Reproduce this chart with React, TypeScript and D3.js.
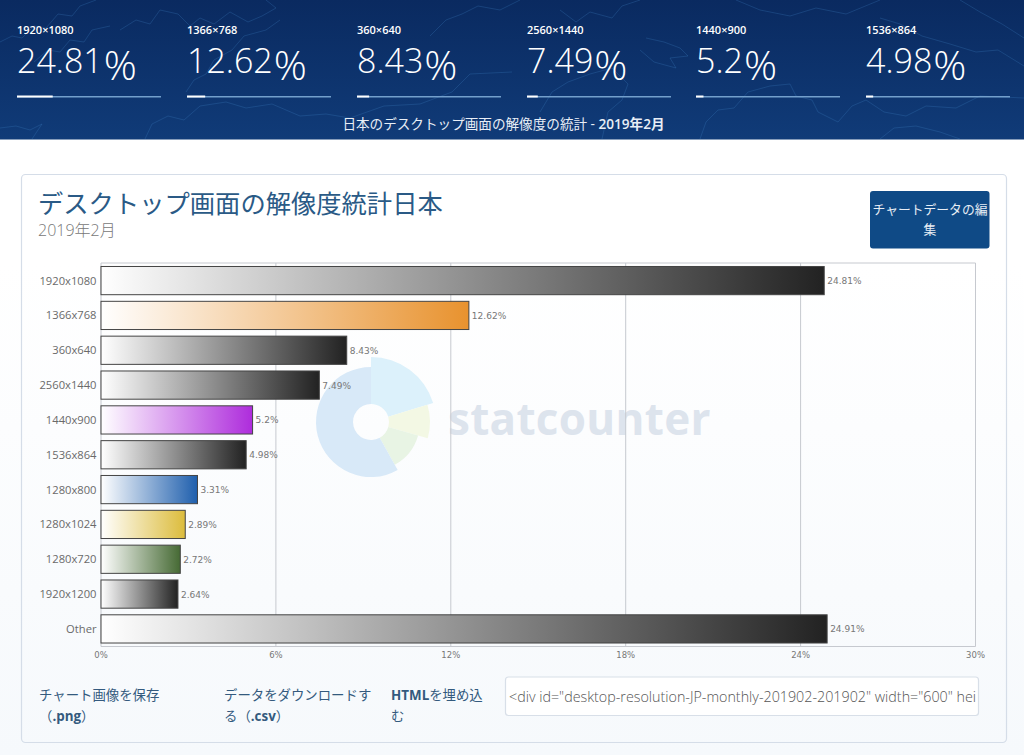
import React from "react";
import * as d3 from "d3";

const categories = ["1920x1080","1366x768","360x640","2560x1440","1440x900","1536x864","1280x800","1280x1024","1280x720","1920x1200","Other"];
const shares = [24.81,12.62,8.43,7.49,5.2,4.98,3.31,2.89,2.72,2.64,24.91];
const barColors = ["#222222","#e8922e","#222222","#222222","#ae2cdc","#222222","#1f5fad","#dcbc3c","#466a34","#222222","#222222"];
const axisTicks = [0,6,12,18,24,30];
const statLabels = ["1920×1080","1366×768","360×640","2560×1440","1440×900","1536×864"];
const statValues = ["24.81","12.62","8.43","7.49","5.2","4.98"];
const statLefts = [17,187,357,527,696,866];
const logoShares = [73,33,45,209];
const logoRadii = [65,59,49,55];
const logoColors = ["#dcf1fb","#f3f8e4","#e8f4e4","#d8e9f8"];
const mapLines = [
  "M0 42 L12 36 L22 38 L34 26 L46 28 L58 14 L72 16 L80 6 L96 0",
  "M34 62 L48 50 L60 52 L70 40 L84 42 L92 30 L110 26",
  "M120 30 L136 20 L150 24 L160 10 L178 14 L190 26 L200 18 L214 24 L230 12 L248 22 L262 16 L276 8 L266 0",
  "M186 92 L194 80 L206 74 L214 60 L232 50 L244 36 L266 30 L280 20",
  "M145 139 L152 124 L168 116 L184 120 L200 106 L226 102 L246 108 L272 104 L300 116 L326 114 L350 118 L384 106 L420 104 L452 92 L470 74 L512 72",
  "M430 36 L446 20 L462 14 L478 6 L500 10 L520 0",
  "M560 10 L576 22 L590 12 L612 18 L622 6 L640 0",
  "M646 38 L664 42 L680 48 L688 56 L670 58 L676 68 L654 62 L640 50",
  "M700 139 L706 122 L718 110 L734 108 L748 92 L770 86 L790 84 L796 96 L812 100 L818 112 L838 122 L852 106 L866 100 L884 112 L906 116 L926 106 L956 108 L980 96 L1024 98",
  "M880 18 L900 24 L922 36 L950 44 L976 52 L998 50 L1024 66",
  "M540 112 L552 92 L568 82 L590 74 L612 68 L628 84 L622 100 L608 112 L602 139",
  "M0 128 L16 126 L30 130 L42 124 L32 139",
  "M960 0 L980 12 L1002 24 L1024 38",
  "M736 0 L760 10 L790 16 L816 8 L846 14 L880 0",
  "M880 139 L894 128 L916 126 L940 132 L960 139",
];

const FONT = "'Open Sans','Noto Sans CJK JP',sans-serif";

const x = d3.scaleLinear().domain([0,30]).range([101,975.5]);
const y = d3.scaleBand().domain(categories).range([263,646.5]).paddingInner(0.19).paddingOuter(0.1);
const statBar = d3.scaleLinear().domain([0,100]).range([0,144]);
const pie = d3.pie<number>().sort(null)(logoShares);
const slices = pie.map((p,i)=>
  d3.arc()({innerRadius:18,outerRadius:logoRadii[i],startAngle:p.startAngle,endAngle:p.endAngle} as any) as string
);

export default function App(){
  return (
    <svg width={1024} height={755} style={{position:"absolute",left:0,top:0,display:"block",fontFamily:FONT}}>
      <defs>
        <linearGradient id="page" x1="0" x2="0" y1="0" y2="1">
          <stop offset="0" stopColor="#ffffff"/><stop offset="0.35" stopColor="#ffffff"/><stop offset="1" stopColor="#f6f9fc"/>
        </linearGradient>
        <linearGradient id="head" x1="0" x2="0" y1="0" y2="1">
          <stop offset="0" stopColor="#0a2a60"/><stop offset="1" stopColor="#103b78"/>
        </linearGradient>
        {barColors.map((c,i)=>(
          <linearGradient key={i} id={`bar${i}`} x1="0" x2="1" y1="0" y2="0">
            <stop offset="0" stopColor="#ffffff"/><stop offset="1" stopColor={c}/>
          </linearGradient>
        ))}
      </defs>
      <rect width={1024} height={755} fill="url(#page)"/>
      <rect width={1024} height={139.5} fill="url(#head)"/>
      <g fill="none" stroke="#3f7fc0" strokeOpacity={0.35} strokeWidth={0.8}>
        {mapLines.map((d,i)=><path key={i} d={d}/>)}
      </g>
      {statLabels.map((s,i)=>{
        const l = statLefts[i];
        return (
          <g key={s} fill="#fff">
            <text x={l} y={73} fontSize={34} fontWeight={300}>{statValues[i]}<tspan fontSize={41} dy={7} dx={1}>%</tspan></text>
            <text x={l} y={34} fontSize={11} fontWeight={600}>{s}</text>
            <rect x={l} y={96} width={144} height={1.5} fill="#739fcc"/>
            <rect x={l} y={95.5} width={statBar(parseFloat(statValues[i]))} height={2} fill="#fff"/>
          </g>
        );
      })}
      <text x={503.5} y={129} textAnchor="middle" fontSize={13.6} fill="#e8eef6">日本のデスクトップ画面の解像度の統計 - <tspan fontWeight={600}>2019年2月</tspan></text>

      <rect x={21.5} y={174.5} width={985} height={568} rx={4} fill="none" stroke="#d5dde8" strokeWidth={1.2}/>
      <text x={38} y={213} fontSize={25.3} fill="#2a5a86">デスクトップ画面の解像度統計日本</text>
      <text x={38} y={236} fontSize={16} fontWeight={300} fill="#777">2019年2月</text>
      <rect x={870} y={191} width={119.5} height={57.5} rx={3} fill="#0f4a86"/>
      <g fontSize={12.8} fill="#e6edf5" textAnchor="middle">
        <text x={930} y={214}>チャートデータの編</text>
        <text x={930} y={234}>集</text>
      </g>

      <g transform="translate(371,422)">
        {slices.map((d,i)=><path key={i} d={d} fill={logoColors[i]}/>)}
      </g>
      <text x={448} y={435} fontSize={44} fontWeight={700} fill="#dde4ed" letterSpacing={0.3}>statcounter</text>

      <g stroke="#c6c9cf" strokeWidth={1}>
        {axisTicks.map(t=><line key={t} x1={x(t)} x2={x(t)} y1={263} y2={646.5}/>)}
        <line x1={101} x2={975.5} y1={263} y2={263}/>
        <line x1={101} x2={975.5} y1={646.5} y2={646.5}/>
      </g>
      {categories.map((c,i)=>{
        const by = y(c)!;
        const bh = y.bandwidth();
        return (
          <g key={c}>
            <rect x={x(0)} y={by} width={x(shares[i])-x(0)} height={bh} fill={`url(#bar${i})`} stroke="#444" strokeWidth={1}/>
            <text x={96.5} y={by+bh/2+4} textAnchor="end" fontSize={11.2} fill="#6a6a6a">{c}</text>
            <text x={x(shares[i])+3} y={by+bh/2+3.5} fontSize={9} fill="#777" fontFamily="'DejaVu Sans',sans-serif">{shares[i]}%</text>
          </g>
        );
      })}
      {axisTicks.map(t=>(
        <text key={t} x={x(t)} y={658} textAnchor="middle" fontSize={8.5} fill="#777" fontFamily="'DejaVu Sans',sans-serif">{t}%</text>
      ))}

      <g fontSize={13.4} fill="#345a7e">
        <text x={39} y={700}>チャート画像を保存</text>
        <text x={39} y={721}>（<tspan fontWeight={700}>.png</tspan>）</text>
        <text x={224} y={700}>データをダウンロードす</text>
        <text x={224} y={721}>る（<tspan fontWeight={700}>.csv</tspan>）</text>
        <text x={391} y={700}><tspan fontWeight={700}>HTML</tspan>を埋め込</text>
        <text x={391} y={721}>む</text>
      </g>
      <rect x={505.5} y={677} width={473} height={38.5} rx={3} fill="#fff" stroke="#d8dfe8" strokeWidth={1.2}/>
      <text x={509} y={702} fontSize={14.3} fontWeight={300} fill="#555">{'<div id="desktop-resolution-JP-monthly-201902-201902" width="600" hei'}</text>
    </svg>
  );
}
